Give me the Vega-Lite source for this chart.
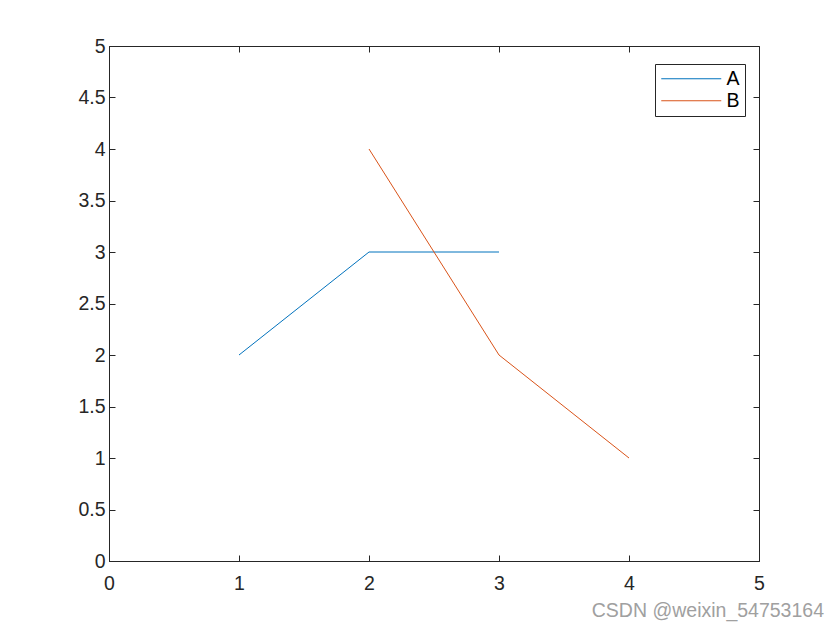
{
  "$schema": "https://vega.github.io/schema/vega-lite/v6.json",
  "width": 650,
  "height": 515,
  "autosize": {"type": "none"},
  "padding": {"left": 109, "top": 46, "right": 81, "bottom": 69},
  "background": "white",
  "title": {
    "text": "CSDN @weixin_54753164",
    "orient": "bottom",
    "anchor": "end",
    "frame": "group",
    "color": "#a0a0a0",
    "fontSize": 19.5,
    "fontWeight": "normal",
    "font": "Liberation Sans",
    "offset": 9,
    "dx": 65
  },
  "config": {
    "font": "Liberation Sans",
    "view": {"stroke": "#262626", "strokeWidth": 1},
    "axis": {
      "grid": false,
      "domainColor": "#262626",
      "tickColor": "#262626",
      "tickSize": -6,
      "labelColor": "#262626",
      "labelFontSize": 19.5,
      "labelFont": "Liberation Sans",
      "labelFlush": false,
      "title": null
    },
    "legend": {
      "orient": "none",
      "legendX": 546,
      "legendY": 18,
      "strokeColor": "#262626",
      "fillColor": "white",
      "padding": 5,
      "symbolType": "M-1,0H6.06",
      "symbolSize": 289,
      "symbolStrokeWidth": 1,
      "labelFontSize": 19.5,
      "labelColor": "#000000",
      "labelOffset": 47,
      "rowPadding": 1,
      "title": null
    }
  },
  "data": {
    "values": [
      {"series": "A", "x": 1, "y": 2},
      {"series": "A", "x": 2, "y": 3},
      {"series": "A", "x": 3, "y": 3},
      {"series": "B", "x": 2, "y": 4},
      {"series": "B", "x": 3, "y": 2},
      {"series": "B", "x": 4, "y": 1}
    ]
  },
  "layer": [
    {
      "mark": {"type": "line", "strokeWidth": 1},
      "encoding": {
        "x": {
          "field": "x", "type": "quantitative",
          "scale": {"domain": [0, 5], "nice": false, "zero": false},
          "axis": {"values": [0, 1, 2, 3, 4, 5], "labelPadding": 19, "labelExpr": "'' + datum.value"}
        },
        "y": {
          "field": "y", "type": "quantitative",
          "scale": {"domain": [0, 5], "nice": false, "zero": false},
          "axis": {"values": [0, 0.5, 1, 1.5, 2, 2.5, 3, 3.5, 4, 4.5, 5], "labelPadding": 10, "labelExpr": "'' + datum.value"}
        },
        "color": {
          "field": "series", "type": "nominal",
          "scale": {"domain": ["A", "B"], "range": ["#0072BD", "#D95319"]},
          "legend": {"title": null}
        }
      }
    },
    {
      "mark": {"type": "line", "opacity": 0},
      "encoding": {
        "x": {
          "field": "x", "type": "quantitative",
          "scale": {"domain": [0, 5], "nice": false, "zero": false},
          "axis": {"orient": "top", "values": [0, 1, 2, 3, 4, 5], "labels": false, "domain": false}
        },
        "y": {
          "field": "y", "type": "quantitative",
          "scale": {"domain": [0, 5], "nice": false, "zero": false},
          "axis": {"orient": "right", "values": [0, 0.5, 1, 1.5, 2, 2.5, 3, 3.5, 4, 4.5, 5], "labels": false, "domain": false}
        },
        "detail": {"field": "series", "type": "nominal"}
      }
    }
  ],
  "resolve": {"axis": {"x": "independent", "y": "independent"}}
}
